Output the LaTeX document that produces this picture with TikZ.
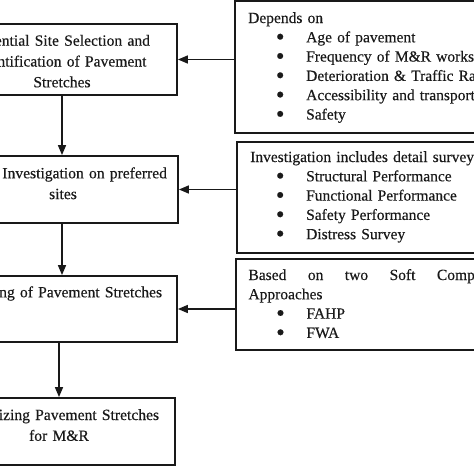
\documentclass[tikz,border=0pt]{standalone}
\usepackage{fontspec}
\setmainfont{Liberation Serif}[FakeBold=0.3]
\usetikzlibrary{arrows.meta}
\definecolor{ink}{RGB}{25,25,25}
\newcommand\bitem[1]{\hspace*{32pt}\makebox[0pt]{\raisebox{-2.6pt}{\scalebox{1.6}{\textbullet}}}\hspace*{26pt}#1}
\begin{document}
\begin{tikzpicture}[x=1pt,y=-1pt,
  box/.style={draw=ink, line width=1.8pt, rectangle, inner sep=0pt},
  ltext/.style={text width=240pt, align=center, inner sep=0pt, text=ink,
    font=\fontsize{15.6}{20.8}\selectfont},
  rtext/.style={text width=300pt, align=left, inner sep=0pt, text=ink,
    font=\fontsize{15.5}{19.3}\selectfont},
  conn/.style={draw=ink, line width=1.5pt, -{Triangle[length=10pt,width=8pt]}}]
\useasboundingbox (0,0) rectangle (474,474);
\clip (0,0) rectangle (474,474);
\fill[white] (0,0) rectangle (474,474);
% left boxes
\node[box, minimum width=230pt, minimum height=71pt] (b1) at (62,59.5) {};
\node[box, minimum width=230pt, minimum height=67pt] (b2) at (63,189.5) {};
\node[box, minimum width=230pt, minimum height=66pt] (b3) at (62,309) {};
\node[box, minimum width=232pt, minimum height=67pt] (b4) at (59,431.5) {};
% right boxes
\node[box, minimum width=285pt, minimum height=131.7pt] (r1) at (377.5,67.15) {};
\node[box, minimum width=283pt, minimum height=111pt] (r2) at (378.5,197.5) {};
\node[box, minimum width=284pt, minimum height=91pt] (r3) at (378,304.5) {};
% left texts
\node[ltext, anchor=base] (t1) at (62,45.7) {Potential Site Selection and\\Identification of Pavement\\Stretches};
\node[ltext, anchor=base] (t2) at (63,178.3) {Detail Investigation on preferred\\sites};
\node[ltext, anchor=base] (t3) at (62,297.3) {Ranking of Pavement Stretches};
\node[ltext, anchor=base] (t4) at (59,420) {Prioritizing Pavement Stretches\\for M\&R};
% right texts
\node[rtext, anchor=base west] (u1) at (248,23) {Depends on\\
  \bitem{Age of pavement}\\
  \bitem{Frequency of M\&R works}\\
  \bitem{Deterioration \& Traffic Rate}\\
  \bitem{Accessibility and transportation}\\
  \bitem{Safety}};
\node[rtext, anchor=base west] (u2) at (250,162) {Investigation includes detail survey\\
  \hspace*{-2pt}\bitem{Structural Performance}\\
  \hspace*{-2pt}\bitem{Functional Performance}\\
  \hspace*{-2pt}\bitem{Safety Performance}\\
  \hspace*{-2pt}\bitem{Distress Survey}};
\node[rtext, anchor=base west] (u3) at (248.3,280) {Based\hspace{21.5pt}on\hspace{21.5pt}two\hspace{21.5pt}Soft\hspace{21.5pt}Computing\\
  Approaches\\
  \bitem{FAHP}\\
  \bitem{FWA}};
% connectors
\draw[conn] (b1.south) -- (b1.south |- b2.north);
\draw[conn] (b3.north |- b2.south) -- (b3.north);
\draw[conn] (b4.north |- b3.south) -- (b4.north);
\draw[conn] (r1.west |- b1.east) -- (b1.east);
\draw[conn] (r2.west |- b2.east) -- (b2.east);
\draw[conn] (r3.west |- b3.east) -- (b3.east);
\end{tikzpicture}
\end{document}
